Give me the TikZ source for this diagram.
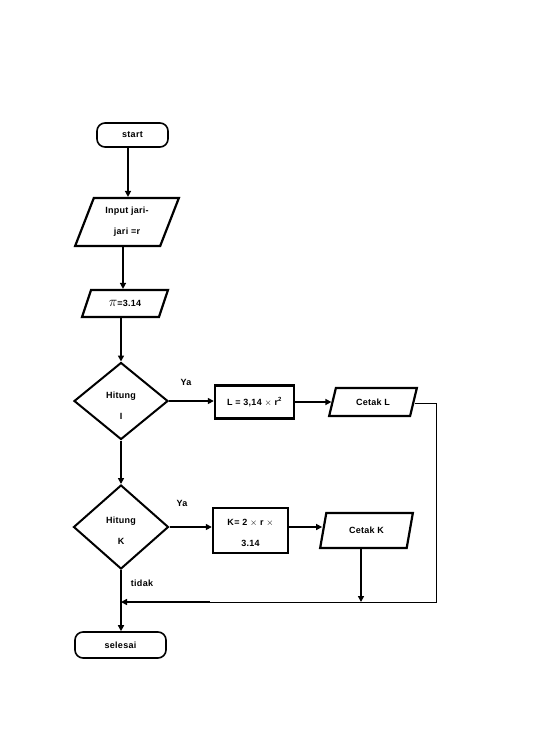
\documentclass[tikz,border=0pt]{standalone}
\usepackage{fontspec}
\setmainfont{Liberation Sans}[LetterSpace=3]
\usetikzlibrary{shapes.geometric,arrows.meta,calc}
\begin{document}
\begin{tikzpicture}[x=1pt,y=-1pt,
  txt/.style={font=\bfseries\fontsize{9}{21}\selectfont, align=center, inner sep=0pt},
  term/.style={txt, draw, line width=1.6pt, rounded corners=8pt, minimum width=#1, minimum height=24pt},
  para/.style={txt, draw, line width=2.2pt, trapezium, trapezium stretches=true, trapezium left angle=#1, trapezium right angle=180-#1},
  proc/.style={txt, draw, line width=2.4pt, minimum width=#1},
  dec/.style={txt, draw, line width=2pt, diamond, aspect=1.2},
  arr/.style={line width=2pt, -{Triangle[length=6pt,width=6pt]}},
  thin/.style={line width=1pt},
  lab/.style={font=\bfseries\fontsize{9}{10}\selectfont, inner sep=0pt}]
\useasboundingbox (0,0) rectangle (557,753);
\fill[white] (0,0) rectangle (557,753);

\node[term=71pt] (start) at (132.5,135) {start};
\node[para=67.4, minimum width=104pt, minimum height=48pt] (input) at (127,222) {Input jari-\\jari =r};
\node[para=56, minimum width=86pt, minimum height=27pt] (pi) at (125,303.5) {{\fontsize{14}{14}\selectfont$\pi$}=3.14};
\node[dec, minimum width=94pt, minimum height=77pt] (d1) at (121,401) {\rule{0pt}{15pt}Hitung\\I};
\node[proc=79pt, minimum height=33pt] (rL) at (254.5,402) {L = 3,14 {\mdseries$\times$} r\textsuperscript{2}};
\node[para=65, minimum width=88pt, minimum height=28pt] (cL) at (373,402) {Cetak L};
\node[dec, minimum width=95pt, minimum height=84pt] (d2) at (121,527) {\rule{0pt}{13pt}Hitung\\K};
\node[proc=75pt, minimum height=45pt] (rK) at (250.5,530.5) {\rule{0pt}{12pt}K= 2 {\mdseries$\times$} r {\mdseries$\times$}\\3.14};
\node[para=68, minimum width=93pt, minimum height=35pt] (cK) at (366.5,530.5) {Cetak K};
\node[term=91pt, minimum height=26pt] (end) at (120.5,645) {selesai};

\node[lab] (ya1) at (186,382) {Ya};
\node[lab] (ya2) at (182,503) {Ya};
\node[lab] (tidak) at (142,583) {tidak};

\coordinate (loopR) at (436,602);
\coordinate (loopTop) at (436,403);
\coordinate (mid) at (210,602);
\coordinate (join) at (121,602);

\draw[arr] ([xshift=-4.5pt]start.south) -- ([xshift=-4.5pt]start.south |- input.north);
\draw[arr] ([xshift=-4pt]input.south) -- ([xshift=-4pt]input.south |- pi.north);
\draw[arr] (d1.north |- pi.south) -- (d1.north);
\draw[arr] (d1.south) -- (d2.north);
\draw[arr] (d2.south) -- (d2.south |- end.north);
\draw[arr] (d1.east) -- (d1.east -| rL.west);
\draw[arr] (rL.east) -- (rL.east -| cL.west);
\draw[arr] (d2.east) -- (d2.east -| rK.west);
\draw[arr] (rK.east |- d2.east) -- (d2.east -| cK.west);
\draw[arr] ([xshift=-5.5pt]cK.south) -- ([xshift=-5.5pt]cK.south |- loopR);
\draw[thin] (cL.east |- loopTop) -- (loopTop) -- (loopR) -- (mid);
\draw[arr] (mid) -- (join);
\end{tikzpicture}
\end{document}
